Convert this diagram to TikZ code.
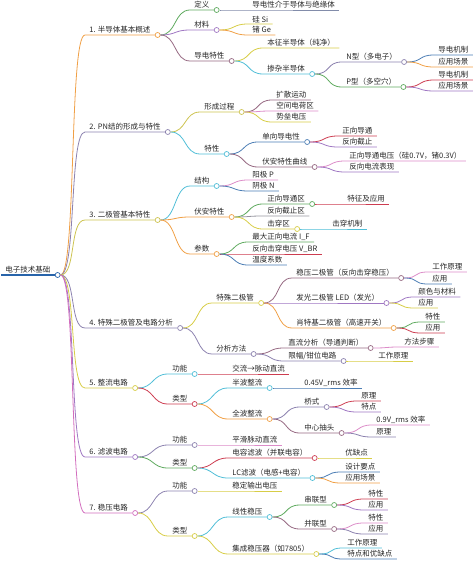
\documentclass[tikz,border=0pt]{standalone}
\usepackage{fontspec}
\setmainfont{Noto Sans CJK SC}
\usepackage{tikz}
\usetikzlibrary{positioning}

\definecolor{cblue}{RGB}{40,100,170}
\definecolor{corange}{RGB}{240,160,70}
\definecolor{cgraypur}{RGB}{140,130,175}
\definecolor{colive}{RGB}{205,195,80}
\definecolor{cyellow}{RGB}{215,205,70}
\definecolor{cpurple}{RGB}{160,120,195}
\definecolor{cpink}{RGB}{220,140,200}
\definecolor{cmagenta}{RGB}{210,110,190}
\definecolor{cgreen}{RGB}{95,170,95}
\definecolor{ccyan}{RGB}{80,190,215}
\definecolor{csteel}{RGB}{75,125,180}
\definecolor{cred}{RGB}{205,60,80}
\definecolor{cbrown}{RGB}{150,105,130}
\definecolor{cgray}{RGB}{150,150,160}
\definecolor{cgrayblue}{RGB}{130,140,170}

\tikzset{
  lbl/.style={anchor=south west, inner xsep=4pt, inner ysep=1.2pt, font=\fontsize{7.5}{9}\selectfont, text=black!85},
  dot/.style={circle, draw=#1, fill=white, line width=0.7pt, inner sep=0pt, minimum size=5pt},
  link/.style={out=0, in=180, out distance=16pt, in distance=16pt}
}

\begin{document}
\begin{tikzpicture}[x=1pt, y=-1pt, line width=0.8pt]
\useasboundingbox (0,0) rectangle (474,577);

% root
\node[lbl] (root) at (1,275) {电子技术基础};
\node[dot=cblue, right=0pt of root.south east] (root-o) {};
\draw[cblue, line width=1.6pt] (root.south west) -- (root-o.west);

% 1. semiconductors
\node[lbl] (semi) at (85,35) {1. 半导体基本概述};
\node[dot=corange, right=0pt of semi.south east] (semi-o) {};
\draw[corange] (root-o.east) to[link] (semi.south west) -- (semi-o.west);

\node[lbl] (def) at (190,10) {定义};
\node[dot=cgreen, right=0pt of def.south east] (def-o) {};
\draw[cgreen] (semi-o.east) to[link] (def.south west) -- (def-o.west);
\node[lbl] (defx) at (248,10) {导电性介于导体与绝缘体};
\draw[cgrayblue] (def-o.east) to[link] (defx.south west) -- (defx.south east);

\node[lbl] (mat) at (190,30) {材料};
\node[dot=cpurple, right=0pt of mat.south east] (mat-o) {};
\draw[cpurple] (semi-o.east) to[link] (mat.south west) -- (mat-o.west);
\node[lbl] (si) at (248,24) {硅 Si};
\draw[cyellow] (mat-o.east) to[link] (si.south west) -- (si.south east);
\node[lbl] (ge) at (248,35) {锗 Ge};
\draw[corange] (mat-o.east) to[link] (ge.south west) -- (ge.south east);

\node[lbl] (cond) at (190,61) {导电特性};
\node[dot=cbrown, right=0pt of cond.south east] (cond-o) {};
\draw[cbrown] (semi-o.east) to[link] (cond.south west) -- (cond-o.west);
\node[lbl] (intr) at (263,48) {本征半导体（纯净）};
\draw[cyellow] (cond-o.east) to[link] (intr.south west) -- (intr.south east);
\node[lbl] (dope) at (263,74) {掺杂半导体};
\node[dot=ccyan, right=0pt of dope.south east] (dope-o) {};
\draw[ccyan] (cond-o.east) to[link] (dope.south west) -- (dope-o.west);

\node[lbl] (ntype) at (342,62) {N型（多电子）};
\node[dot=cgraypur, right=0pt of ntype.south east] (ntype-o) {};
\draw[cgraypur] (dope-o.east) to[link] (ntype.south west) -- (ntype-o.west);
\node[lbl] (nmech) at (434,55) {导电机制};
\draw[csteel] (ntype-o.east) to[link] (nmech.south west) -- (nmech.south east);
\node[lbl] (nuse) at (434,67) {应用场景};
\draw[corange] (ntype-o.east) to[link] (nuse.south west) -- (nuse.south east);

\node[lbl] (ptype) at (342,87) {P型（多空穴）};
\node[dot=cgreen, right=0pt of ptype.south east] (ptype-o) {};
\draw[cgreen] (dope-o.east) to[link] (ptype.south west) -- (ptype-o.west);
\node[lbl] (pmech) at (434,80) {导电机制};
\draw[cred] (ptype-o.east) to[link] (pmech.south west) -- (pmech.south east);
\node[lbl] (puse) at (434,91) {应用场景};
\draw[cpurple] (ptype-o.east) to[link] (puse.south west) -- (puse.south east);

% 2. PN junction
\node[lbl] (pn) at (85,132) {2. PN结的形成与特性};
\node[dot=cgraypur, right=0pt of pn.south east] (pn-o) {};
\draw[cgraypur] (root-o.east) to[link] (pn.south west) -- (pn-o.west);

\node[lbl] (form) at (200,112) {形成过程};
\node[dot=colive, right=0pt of form.south east] (form-o) {};
\draw[colive] (pn-o.east) to[link] (form.south west) -- (form-o.west);
\node[lbl] (diff) at (272,100) {扩散运动};
\draw[cbrown] (form-o.east) to[link] (diff.south west) -- (diff.south east);
\node[lbl] (space) at (272,111) {空间电荷区};
\draw[cpink] (form-o.east) to[link] (space.south west) -- (space.south east);
\node[lbl] (barr) at (272,122) {势垒电压};
\draw[cyellow] (form-o.east) to[link] (barr.south west) -- (barr.south east);

\node[lbl] (pnchar) at (200,154) {特性};
\node[dot=ccyan, right=0pt of pnchar.south east] (pnchar-o) {};
\draw[ccyan] (pn-o.east) to[link] (pnchar.south west) -- (pnchar-o.west);
\node[lbl] (uni) at (258,142) {单向导电性};
\node[dot=csteel, right=0pt of uni.south east] (uni-o) {};
\draw[csteel] (pnchar-o.east) to[link] (uni.south west) -- (uni-o.west);
\node[lbl] (fwd) at (338,136) {正向导通};
\draw[cred] (uni-o.east) to[link] (fwd.south west) -- (fwd.south east);
\node[lbl] (rev) at (338,147) {反向截止};
\draw[cpurple] (uni-o.east) to[link] (rev.south west) -- (rev.south east);
\node[lbl] (iv) at (258,167) {伏安特性曲线};
\node[dot=cbrown, right=0pt of iv.south east] (iv-o) {};
\draw[cbrown] (pnchar-o.east) to[link] (iv.south west) -- (iv-o.west);
\node[lbl] (vf) at (345,161) {正向导通电压（硅0.7V，锗0.3V）};
\draw[cpink] (iv-o.east) to[link] (vf.south west) -- (vf.south east);
\node[lbl] (irev) at (345,172) {反向电流表现};
\draw[cpurple] (iv-o.east) to[link] (irev.south west) -- (irev.south east);

% 3. diode
\node[lbl] (diode) at (85,220) {3. 二极管基本特性};
\node[dot=colive, right=0pt of diode.south east] (diode-o) {};
\draw[colive] (root-o.east) to[link] (diode.south west) -- (diode-o.west);

\node[lbl] (struct) at (190,186) {结构};
\node[dot=ccyan, right=0pt of struct.south east] (struct-o) {};
\draw[ccyan] (diode-o.east) to[link] (struct.south west) -- (struct-o.west);
\node[lbl] (anode) at (248,180) {阳极 P};
\draw[cpink] (struct-o.east) to[link] (anode.south west) -- (anode.south east);
\node[lbl] (cathode) at (248,191) {阴极 N};
\draw[csteel] (struct-o.east) to[link] (cathode.south west) -- (cathode.south east);

\node[lbl] (divc) at (190,217) {伏安特性};
\node[dot=corange, right=0pt of divc.south east] (divc-o) {};
\draw[corange] (diode-o.east) to[link] (divc.south west) -- (divc-o.west);
\node[lbl] (fon) at (263,204) {正向导通区};
\node[dot=cgreen, right=0pt of fon.south east] (fon-o) {};
\draw[cgreen] (divc-o.east) to[link] (fon.south west) -- (fon-o.west);
\node[lbl] (fonx) at (343,204) {特征及应用};
\draw[cred] (fon-o.east) to[link] (fonx.south west) -- (fonx.south east);
\node[lbl] (roff) at (263,216) {反向截止区};
\draw[cgray] (divc-o.east) to[link] (roff.south west) -- (roff.south east);
\node[lbl] (bd) at (263,229) {击穿区};
\node[dot=cyellow, right=0pt of bd.south east] (bd-o) {};
\draw[cyellow] (divc-o.east) to[link] (bd.south west) -- (bd-o.west);
\node[lbl] (bdx) at (328,229) {击穿机制};
\draw[ccyan] (bd-o.east) to[link] (bdx.south west) -- (bdx.south east);

\node[lbl] (param) at (190,254) {参数};
\node[dot=corange, right=0pt of param.south east] (param-o) {};
\draw[corange] (diode-o.east) to[link] (param.south west) -- (param-o.west);
\node[lbl] (imax) at (248,242) {最大正向电流 I\_F};
\draw[cgreen] (param-o.east) to[link] (imax.south west) -- (imax.south east);
\node[lbl] (vbr) at (248,254) {反向击穿电压 V\_BR};
\draw[cred] (param-o.east) to[link] (vbr.south west) -- (vbr.south east);
\node[lbl] (tc) at (248,265) {温度系数};
\draw[csteel] (param-o.east) to[link] (tc.south west) -- (tc.south east);

% 4. special diodes
\node[lbl] (special) at (85,328) {4. 特殊二极管及电路分析};
\node[dot=cgraypur, right=0pt of special.south east] (special-o) {};
\draw[cgraypur] (root-o.east) to[link] (special.south west) -- (special-o.west);

\node[lbl] (sdio) at (212,303) {特殊二极管};
\node[dot=cyellow, right=0pt of sdio.south east] (sdio-o) {};
\draw[cyellow] (special-o.east) to[link] (sdio.south west) -- (sdio-o.west);
\node[lbl] (zener) at (292,278) {稳压二极管（反向击穿稳压）};
\node[dot=cbrown, right=0pt of zener.south east] (zener-o) {};
\draw[cbrown] (sdio-o.east) to[link] (zener.south west) -- (zener-o.west);
\node[lbl] (zwork) at (428,272) {工作原理};
\draw[cpink] (zener-o.east) to[link] (zwork.south west) -- (zwork.south east);
\node[lbl] (zuse) at (428,284) {应用};
\draw[csteel] (zener-o.east) to[link] (zuse.south west) -- (zuse.south east);
\node[lbl] (led) at (292,303) {发光二极管 LED（发光）};
\node[dot=cpurple, right=0pt of led.south east] (led-o) {};
\draw[cpurple] (sdio-o.east) to[link] (led.south west) -- (led-o.west);
\node[lbl] (ledcol) at (414,297) {颜色与材料};
\draw[cpurple] (led-o.east) to[link] (ledcol.south west) -- (ledcol.south east);
\node[lbl] (leduse) at (414,308) {应用};
\draw[cyellow] (led-o.east) to[link] (leduse.south west) -- (leduse.south east);
\node[lbl] (sky) at (292,328) {肖特基二极管（高速开关）};
\node[dot=corange, right=0pt of sky.south east] (sky-o) {};
\draw[corange] (sdio-o.east) to[link] (sky.south west) -- (sky-o.west);
\node[lbl] (skychar) at (421,322) {特性};
\draw[cgreen] (sky-o.east) to[link] (skychar.south west) -- (skychar.south east);
\node[lbl] (skyuse) at (421,333) {应用};
\draw[cred] (sky-o.east) to[link] (skyuse.south west) -- (skyuse.south east);

\node[lbl] (meth) at (212,354) {分析方法};
\node[dot=cgraypur, right=0pt of meth.south east] (meth-o) {};
\draw[cgraypur] (special-o.east) to[link] (meth.south west) -- (meth-o.west);
\node[lbl] (dca) at (284,348) {直流分析（导通判断）};
\node[dot=cbrown, right=0pt of dca.south east] (dca-o) {};
\draw[cbrown] (meth-o.east) to[link] (dca.south west) -- (dca-o.west);
\node[lbl] (dcstep) at (400,347) {方法步骤};
\draw[cpink] (dca-o.east) to[link] (dcstep.south west) -- (dcstep.south east);
\node[lbl] (clip) at (284,361) {限幅/钳位电路};
\node[dot=cgraypur, right=0pt of clip.south east] (clip-o) {};
\draw[cgraypur] (meth-o.east) to[link] (clip.south west) -- (clip-o.west);
\node[lbl] (clipwork) at (374,361) {工作原理};
\draw[cyellow] (clip-o.east) to[link] (clipwork.south west) -- (clipwork.south east);

% 5. rectifiers
\node[lbl] (rect) at (85,388) {5. 整流电路};
\node[dot=cyellow, right=0pt of rect.south east] (rect-o) {};
\draw[cyellow] (root-o.east) to[link] (rect.south west) -- (rect-o.west);

\node[lbl] (rfun) at (168,374) {功能};
\node[dot=ccyan, right=0pt of rfun.south east] (rfun-o) {};
\draw[ccyan] (rect-o.east) to[link] (rfun.south west) -- (rfun-o.west);
\node[lbl] (rfunx) at (228,374) {交流→脉动直流};
\draw[cred] (rfun-o.east) to[link] (rfunx.south west) -- (rfunx.south east);

\node[lbl] (rtype) at (168,404) {类型};
\node[dot=cred, right=0pt of rtype.south east] (rtype-o) {};
\draw[cred] (rect-o.east) to[link] (rtype.south west) -- (rtype-o.west);
\node[lbl] (half) at (228,388) {半波整流};
\node[dot=ccyan, right=0pt of half.south east] (half-o) {};
\draw[ccyan] (rtype-o.east) to[link] (half.south west) -- (half-o.west);
\node[lbl] (halfx) at (300,388) {0.45V\_rms 效率};
\draw[csteel] (half-o.east) to[link] (halfx.south west) -- (halfx.south east);
\node[lbl] (full) at (228,419) {全波整流};
\node[dot=corange, right=0pt of full.south east] (full-o) {};
\draw[corange] (rtype-o.east) to[link] (full.south west) -- (full-o.west);
\node[lbl] (bridge) at (300,407) {桥式};
\node[dot=cgraypur, right=0pt of bridge.south east] (bridge-o) {};
\draw[cgraypur] (full-o.east) to[link] (bridge.south west) -- (bridge-o.west);
\node[lbl] (brp) at (357,401) {原理};
\draw[cred] (bridge-o.east) to[link] (brp.south west) -- (brp.south east);
\node[lbl] (brf) at (357,412) {特点};
\draw[cpurple] (bridge-o.east) to[link] (brf.south west) -- (brf.south east);
\node[lbl] (ctap) at (300,433) {中心抽头};
\node[dot=cbrown, right=0pt of ctap.south east] (ctap-o) {};
\draw[cbrown] (full-o.east) to[link] (ctap.south west) -- (ctap-o.west);
\node[lbl] (ctx) at (372,425) {0.9V\_rms 效率};
\draw[cpink] (ctap-o.east) to[link] (ctx.south west) -- (ctx.south east);
\node[lbl] (ctp) at (372,437) {原理};
\draw[cgraypur] (ctap-o.east) to[link] (ctp.south west) -- (ctp.south east);

% 6. filters
\node[lbl] (filt) at (85,457) {6. 滤波电路};
\node[dot=cpurple, right=0pt of filt.south east] (filt-o) {};
\draw[cpurple] (root-o.east) to[link] (filt.south west) -- (filt-o.west);

\node[lbl] (ffun) at (168,445) {功能};
\node[dot=cgraypur, right=0pt of ffun.south east] (ffun-o) {};
\draw[cgraypur] (filt-o.east) to[link] (ffun.south west) -- (ffun-o.west);
\node[lbl] (ffunx) at (228,445) {平滑脉动直流};
\draw[cpink] (ffun-o.east) to[link] (ffunx.south west) -- (ffunx.south east);

\node[lbl] (ftype) at (168,468) {类型};
\node[dot=cgreen, right=0pt of ftype.south east] (ftype-o) {};
\draw[cgreen] (filt-o.east) to[link] (ftype.south west) -- (ftype-o.west);
\node[lbl] (capf) at (228,458) {电容滤波（并联电容）};
\node[dot=cred, right=0pt of capf.south east] (capf-o) {};
\draw[cred] (ftype-o.east) to[link] (capf.south west) -- (capf-o.west);
\node[lbl] (capx) at (341,458) {优缺点};
\draw[cyellow] (capf-o.east) to[link] (capx.south west) -- (capx.south east);
\node[lbl] (lcf) at (228,478) {LC滤波（电感+电容）};
\node[dot=ccyan, right=0pt of lcf.south east] (lcf-o) {};
\draw[ccyan] (ftype-o.east) to[link] (lcf.south west) -- (lcf-o.west);
\node[lbl] (lcd) at (341,472) {设计要点};
\draw[csteel] (lcf-o.east) to[link] (lcd.south west) -- (lcd.south east);
\node[lbl] (lcu) at (341,483) {应用场景};
\draw[corange] (lcf-o.east) to[link] (lcu.south west) -- (lcu.south east);

% 7. regulators
\node[lbl] (reg) at (85,513) {7. 稳压电路};
\node[dot=cmagenta, right=0pt of reg.south east] (reg-o) {};
\draw[cmagenta] (root-o.east) to[link] (reg.south west) -- (reg-o.west);

\node[lbl] (gfun) at (168,491) {功能};
\node[dot=cgraypur, right=0pt of gfun.south east] (gfun-o) {};
\draw[cgraypur] (reg-o.east) to[link] (gfun.south west) -- (gfun-o.west);
\node[lbl] (gfunx) at (228,491) {稳定输出电压};
\draw[cyellow] (gfun-o.east) to[link] (gfunx.south west) -- (gfunx.south east);

\node[lbl] (gtype) at (168,536) {类型};
\node[dot=cyellow, right=0pt of gtype.south east] (gtype-o) {};
\draw[cyellow] (reg-o.east) to[link] (gtype.south west) -- (gtype-o.west);
\node[lbl] (lin) at (228,517) {线性稳压};
\node[dot=ccyan, right=0pt of lin.south east] (lin-o) {};
\draw[ccyan] (gtype-o.east) to[link] (lin.south west) -- (lin-o.west);
\node[lbl] (ser) at (300,505) {串联型};
\node[dot=cgreen, right=0pt of ser.south east] (ser-o) {};
\draw[cgreen] (lin-o.east) to[link] (ser.south west) -- (ser-o.west);
\node[lbl] (serc) at (364,499) {特性};
\draw[cred] (ser-o.east) to[link] (serc.south west) -- (serc.south east);
\node[lbl] (seru) at (364,510) {应用};
\draw[cpurple] (ser-o.east) to[link] (seru.south west) -- (seru.south east);
\node[lbl] (par) at (300,529) {并联型};
\node[dot=cbrown, right=0pt of par.south east] (par-o) {};
\draw[cbrown] (lin-o.east) to[link] (par.south west) -- (par-o.west);
\node[lbl] (parc) at (364,523) {特性};
\draw[cpink] (par-o.east) to[link] (parc.south west) -- (parc.south east);
\node[lbl] (paru) at (364,534) {应用};
\draw[cgraypur] (par-o.east) to[link] (paru.south west) -- (paru.south east);
\node[lbl] (ic) at (228,554) {集成稳压器（如7805）};
\node[dot=cyellow, right=0pt of ic.south east] (ic-o) {};
\draw[cyellow] (gtype-o.east) to[link] (ic.south west) -- (ic-o.west);
\node[lbl] (icw) at (343,548) {工作原理};
\draw[ccyan] (ic-o.east) to[link] (icw.south west) -- (icw.south east);
\node[lbl] (icf) at (343,559) {特点和优缺点};
\draw[csteel] (ic-o.east) to[link] (icf.south west) -- (icf.south east);
\end{tikzpicture}
\end{document}
